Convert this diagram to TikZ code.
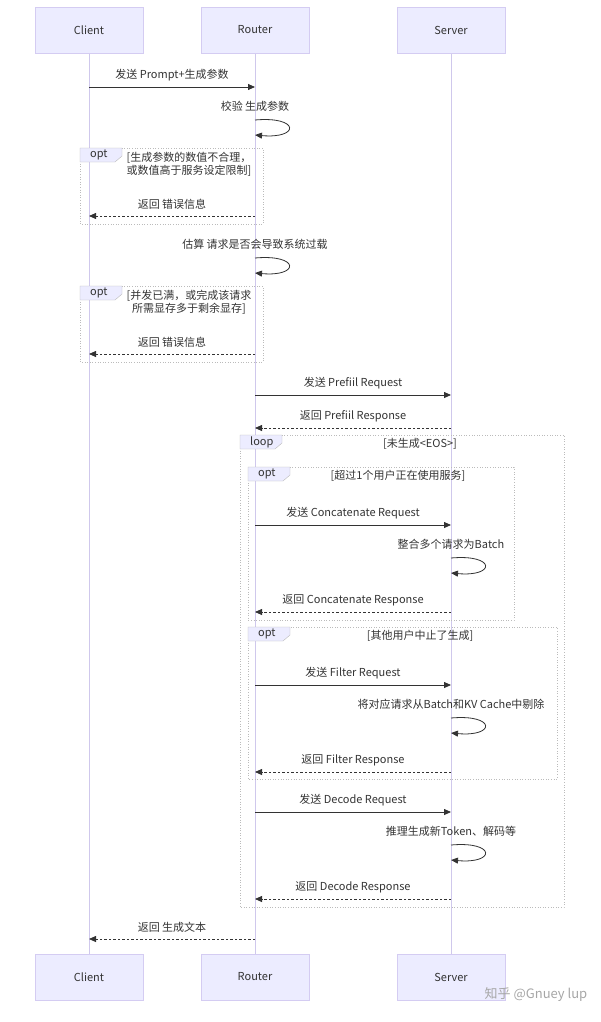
\documentclass[tikz,border=0pt]{standalone}
\usepackage{fontspec}
\setmainfont{Noto Sans CJK SC}
\usetikzlibrary{arrows.meta}
\definecolor{actfill}{HTML}{ECECFF}
\definecolor{actdraw}{HTML}{D4CCF2}
\definecolor{life}{HTML}{CFC8EC}
\definecolor{frm}{HTML}{BBBBBB}
\definecolor{txt}{HTML}{333333}
\tikzset{
  actor/.style={draw=actdraw,fill=actfill,minimum width=108pt,minimum height=46pt,inner sep=0pt,font=\fontsize{11}{13}\selectfont,text=txt},
  lifeline/.style={draw=life,line width=0.8pt},
  msg/.style={draw=txt,line width=0.8pt,-{Triangle[length=7pt,width=6pt]}},
  ret/.style={msg,dash pattern=on 2.5pt off 2pt},
  lbl/.style={font=\fontsize{11}{13}\selectfont,text=txt,inner sep=1pt},
  frame/.style={draw=frm,dotted,line width=0.6pt},
  tab/.style={fill=actfill,draw=frm,line width=0.4pt},
  cond/.style={font=\fontsize{11}{13}\selectfont,text=txt,align=center,inner sep=0pt}
}
\newcommand{\selfloop}[3]{% x, y1, label
  \draw[msg] (#1,#2) .. controls (#1+45,#2-4) and (#1+45,#2+19) .. (#1,#2+15);
  \node[lbl] at (#1,#2-14) {#3};}
\newcommand{\frmbox}[5]{% x1,y1,x2,y2,tag
  \draw[frame] (#1,#2) rectangle (#3,#4);
  \draw[tab] (#1,#2) -- (#1+42,#2) -- (#1+42,#2+8) -- (#1+35,#2+14) -- (#1,#2+14) -- cycle;
  \node[lbl,anchor=west] at (#1+9,#2+7) {#5};}
\begin{document}
\begin{tikzpicture}[x=1pt,y=-1pt]
\useasboundingbox (0,0) rectangle (600,1022);
% lifelines
\coordinate (ct) at (89,53); \coordinate (cb) at (89,954);
\coordinate (rt) at (255,53); \coordinate (rb) at (255,954);
\coordinate (st) at (451,53); \coordinate (sb) at (451,954);
\draw[lifeline] (ct) -- (cb); \draw[lifeline] (rt) -- (rb); \draw[lifeline] (st) -- (sb);
\node[actor] (c1) at (89,30) {Client};
\node[actor] (r1) at (255,30) {Router};
\node[actor] (s1) at (451,30) {Server};
\node[actor] (c2) at (89,977) {Client};
\node[actor] (r2) at (255,977) {Router};
\node[actor] (s2) at (451,977) {Server};
% frames
\frmbox{80}{148}{263}{224}{opt}
\node[cond] at (189,164) {[生成参数的数值不合理，\\或数值高于服务设定限制]};
\frmbox{80}{286}{263}{362}{opt}
\node[cond] at (189,302) {[并发已满，或完成该请求\\所需显存多于剩余显存]};
\frmbox{240}{435}{564}{907}{loop}
\node[cond] at (420,444) {[未生成<EOS>]};
\frmbox{248}{467}{514}{620}{opt}
\node[cond] at (398,476) {[超过1个用户正在使用服务]};
\frmbox{248}{627}{557}{779}{opt}
\node[cond] at (420,636) {[其他用户中止了生成]};
% messages
\coordinate (a1) at (89,87); \coordinate (b1) at (255,87);
\draw[msg] (a1) -- (b1) node[lbl,midway,above=5pt] {发送 Prompt+生成参数};
\selfloop{255}{120}{校验 生成参数}
\coordinate (a2) at (255,216); \coordinate (b2) at (89,216);
\draw[ret] (a2) -- (b2) node[lbl,midway,above=5pt] {返回 错误信息};
\selfloop{255}{258}{估算 请求是否会导致系统过载}
\coordinate (a3) at (255,354); \coordinate (b3) at (89,354);
\draw[ret] (a3) -- (b3) node[lbl,midway,above=5pt] {返回 错误信息};
\coordinate (a4) at (255,395); \coordinate (b4) at (451,395);
\draw[msg] (a4) -- (b4) node[lbl,midway,above=5pt] {发送 Prefiil Request};
\coordinate (a5) at (451,428); \coordinate (b5) at (255,428);
\draw[ret] (a5) -- (b5) node[lbl,midway,above=5pt] {返回 Prefiil Response};
\coordinate (a6) at (255,525); \coordinate (b6) at (451,525);
\draw[msg] (a6) -- (b6) node[lbl,midway,above=5pt] {发送 Concatenate Request};
\selfloop{451}{558}{整合多个请求为Batch}
\coordinate (a7) at (451,612); \coordinate (b7) at (255,612);
\draw[ret] (a7) -- (b7) node[lbl,midway,above=5pt] {返回 Concatenate Response};
\coordinate (a8) at (255,685); \coordinate (b8) at (451,685);
\draw[msg] (a8) -- (b8) node[lbl,midway,above=5pt] {发送 Filter Request};
\selfloop{451}{718}{将对应请求从Batch和KV Cache中剔除}
\coordinate (a9) at (451,772); \coordinate (b9) at (255,772);
\draw[ret] (a9) -- (b9) node[lbl,midway,above=5pt] {返回 Filter Response};
\coordinate (a10) at (255,812); \coordinate (b10) at (451,812);
\draw[msg] (a10) -- (b10) node[lbl,midway,above=5pt] {发送 Decode Request};
\selfloop{451}{845}{推理生成新Token、解码等}
\coordinate (a11) at (451,899); \coordinate (b11) at (255,899);
\draw[ret] (a11) -- (b11) node[lbl,midway,above=5pt] {返回 Decode Response};
\coordinate (a12) at (255,939); \coordinate (b12) at (89,939);
\draw[ret] (a12) -- (b12) node[lbl,midway,above=5pt] {返回 生成文本};
\node[font=\fontsize{13}{15}\selectfont,text=gray!70] (wm) at (536,995) {知乎 @Gnuey lup};
\end{tikzpicture}
\end{document}
